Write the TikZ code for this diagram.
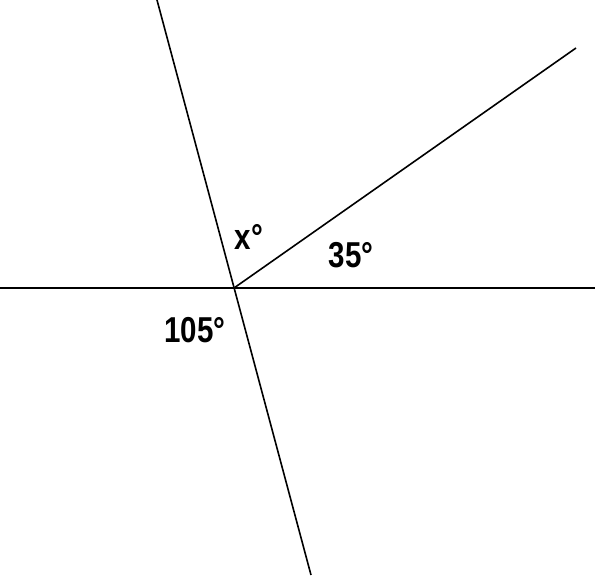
\documentclass[tikz,border=0pt]{standalone}
\usepackage{fontspec}
\setmainfont{Liberation Sans}[FakeStretch=0.82]
\begin{document}
\begin{tikzpicture}[x=1pt,y=-1pt,line width=1.6pt,
  angle/.style={font=\fontsize{36}{36}\selectfont\bfseries,inner sep=0pt}]
\useasboundingbox (0,0) rectangle (595,576);
\coordinate (O) at (234,288);
\coordinate (west) at (0,288);
\coordinate (east) at (595,288);
\coordinate (top) at (157,0);
\coordinate (bottom) at (311,575);
\coordinate (ray) at (576,48);
\draw (west) -- (east);
\draw (top) -- (bottom);
\draw (O) -- (ray);
\node[angle] (x) at (249,237) {x°};
\node[angle] (a35) at (351,255) {35°};
\node[angle] (a105) at (195,330) {105°};
\end{tikzpicture}
\end{document}
